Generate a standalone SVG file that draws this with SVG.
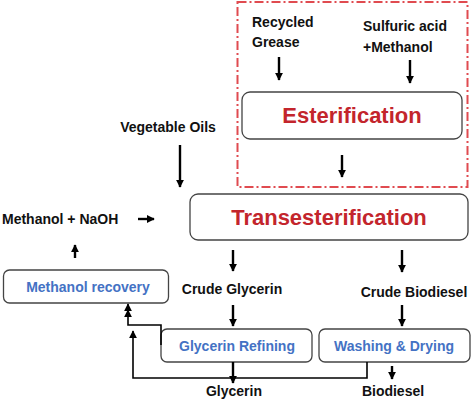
<svg xmlns="http://www.w3.org/2000/svg" width="474" height="401" viewBox="0 0 474 401">
<style>
.t{font-family:"Liberation Sans",Arial,sans-serif;font-weight:bold;font-size:14px;fill:#111}
.b{font-family:"Liberation Sans",Arial,sans-serif;font-weight:bold;font-size:14px;fill:#4472c4}
.r{font-family:"Liberation Sans",Arial,sans-serif;font-weight:bold;font-size:22px;fill:#c3252c}
.box{fill:#fff;stroke:#444;stroke-width:1.3}
.a{stroke:#000;stroke-width:2.4;fill:none;marker-end:url(#ah)}
.l{stroke:#000;stroke-width:1.6;fill:none}
</style>
<defs>
<marker id="ah" viewBox="0 0 10 10" refX="9" refY="5" markerWidth="3.4" markerHeight="3.4" orient="auto" markerUnits="strokeWidth">
<path d="M0,0 L10,5 L0,10 z" fill="#000"/>
</marker>
<marker id="ah2" viewBox="0 0 10 10" refX="9" refY="5" markerWidth="5" markerHeight="5" orient="auto" markerUnits="strokeWidth">
<path d="M0,0 L10,5 L0,10 z" fill="#000"/>
</marker>
</defs>
<rect width="474" height="401" fill="#fff"/>
<g id="esterification-group">
<rect x="237.5" y="2" width="230" height="185" fill="none" stroke="#e04b50" stroke-width="2" stroke-dasharray="9,3,2,3"/>
</g>
<g id="recycled-grease"><text class="t" x="252" y="27">Recycled</text><text class="t" x="252" y="47">Grease</text></g>
<g id="sulfuric"><text class="t" x="363" y="31">Sulfuric acid</text><text class="t" x="363" y="52">+Methanol</text></g>
<g id="esterification"><rect class="box" x="242" y="92" width="220" height="47" rx="8"/><text class="r" x="352" y="123" text-anchor="middle">Esterification</text></g>
<g id="vegetable-oils"><text class="t" x="168" y="132" text-anchor="middle">Vegetable Oils</text></g>
<g id="transesterification"><rect class="box" x="190" y="194" width="278" height="46" rx="8"/><text class="r" x="329" y="225" text-anchor="middle">Transesterification</text></g>
<g id="methanol-naoh"><text class="t" x="2" y="224">Methanol + NaOH</text></g>
<g id="methanol-recovery"><rect class="box" x="3.5" y="270" width="165" height="33" rx="6"/><text class="b" x="88" y="292" text-anchor="middle">Methanol recovery</text></g>
<g id="crude-glycerin"><text class="t" x="232" y="294" text-anchor="middle">Crude Glycerin</text></g>
<g id="crude-biodiesel"><text class="t" x="414" y="297" text-anchor="middle">Crude Biodiesel</text></g>
<g id="glycerin-refining"><rect class="box" x="161" y="329" width="151" height="33" rx="6"/><text class="b" x="237" y="351" text-anchor="middle">Glycerin Refining</text></g>
<g id="washing-drying"><rect class="box" x="319" y="329" width="151" height="33" rx="6"/><text class="b" x="394" y="351" text-anchor="middle">Washing &amp; Drying</text></g>
<g id="glycerin"><text class="t" x="234" y="396" text-anchor="middle">Glycerin</text></g>
<g id="biodiesel"><text class="t" x="393" y="396" text-anchor="middle">Biodiesel</text></g>
<g id="connectors">
<line class="a" x1="279" y1="57" x2="279" y2="80"/>
<line class="a" x1="410" y1="60" x2="410" y2="83"/>
<line class="a" x1="342" y1="155" x2="342" y2="177"/>
<line class="a" x1="180" y1="145" x2="180" y2="187"/>
<line class="a" x1="138" y1="219" x2="154" y2="219"/>
<line class="a" x1="75" y1="258" x2="75" y2="245"/>
<line class="a" x1="233" y1="250" x2="233" y2="271"/>
<line class="a" x1="402" y1="250" x2="402" y2="272"/>
<line class="a" x1="233" y1="305" x2="233" y2="326"/>
<line class="a" x1="402" y1="305" x2="402" y2="326"/>
<line class="a" x1="392" y1="366" x2="392" y2="379"/>
<polyline class="l" points="161,345 161,325 128,325 128,310" marker-end="url(#ah2)"/>
<line class="l" x1="128" y1="312" x2="128" y2="304" marker-end="url(#ah2)"/>
<polyline class="l" points="367,362 367,378 133,378 133,331" marker-end="url(#ah2)"/>
<line class="a" x1="233" y1="362" x2="233" y2="383"/>
</g>
</svg>
